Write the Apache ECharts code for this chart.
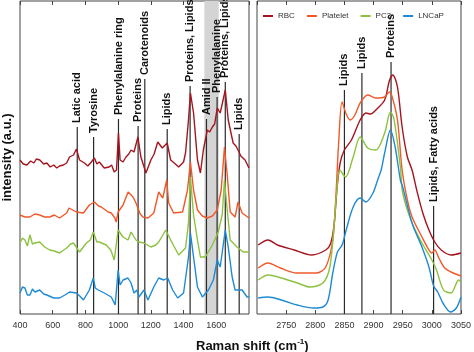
<!DOCTYPE html>
<html>
<head>
<meta charset="utf-8">
<script src="https://cdn.jsdelivr.net/npm/echarts/dist/echarts.min.js"></script>
<style>
  html, body { margin: 0; padding: 0; background: #fff; }
  #chart { width: 474px; height: 352px; }
</style>
</head>
<body>
<div id="chart"></div>
<script>
// spectra, [wavenumber, intensity a.u.]
const seriesNames = ['RBC', 'Platelet', 'PC3', 'LNCaP']
const colors = ['#A5151F', '#F2592A', '#8CC23F', '#1E8AD3']

// fingerprint region 400 - 1800
const rbcLow = [[400,154],[420,150],[442,149],[465,153],[485,151],[500,155],[521,154],[545,150],[564,151],[585,147],[606,149],[625,146],[642,148],[665,149],[685,151],[703,157],[715,155],[727,159],[745,165],[764,154],[794,151],[815,148],[836,152],[855,156],[870,150],[885,152],[915,146],[945,147],[960,149],[976,142],[990,144],[1002,181],[1012,154],[1030,152],[1048,157],[1065,160],[1079,164],[1097,162],[1121,177],[1139,157],[1170,141],[1200,154],[1220,160],[1242,172],[1270,166],[1300,171],[1321,154],[1350,150],[1370,147],[1382,146],[1400,152],[1412,161],[1430,194],[1442,221],[1461,201],[1485,154],[1503,141],[1521,164],[1545,184],[1560,182],[1576,187],[1590,190],[1606,206],[1624,201],[1655,224],[1673,194],[1703,171],[1720,168],[1733,164],[1750,158],[1776,154],[1800,146]]
const plateletLow = [[400,99],[430,97],[461,97],[490,100],[521,99],[550,97],[582,97],[610,99],[642,96],[685,101],[700,106],[745,102],[788,101],[824,109],[855,112],[880,108],[897,107],[939,102],[958,101],[980,96],[988,92],[1000,102],[1030,109],[1061,122],[1070,124],[1091,117],[1109,111],[1121,109],[1135,100],[1152,97],[1182,96],[1218,101],[1248,122],[1273,116],[1297,134],[1309,111],[1339,101],[1394,102],[1424,124],[1442,152],[1461,124],[1485,104],[1515,98],[1545,96],[1576,98],[1606,104],[1630,124],[1650,167],[1667,139],[1685,102],[1715,97],[1733,112],[1758,101],[1800,96]]
const pc3Low = [[400,71],[415,76],[430,74],[445,68],[461,79],[476,70],[491,71],[521,72],[550,67],[582,64],[610,63],[642,61],[685,66],[710,70],[727,71],[764,62],[806,71],[830,74],[848,82],[870,72],[885,72],[927,69],[955,64],[976,54],[1000,84],[1030,77],[1060,74],[1079,82],[1109,74],[1127,72],[1158,71],[1200,67],[1230,69],[1248,72],[1291,84],[1321,74],[1370,59],[1412,66],[1430,91],[1442,137],[1461,99],[1485,74],[1503,57],[1533,57],[1576,69],[1612,82],[1636,99],[1650,134],[1667,104],[1685,74],[1727,67],[1764,62],[1800,62]]
const lncapLow = [[400,21],[415,27],[430,26],[445,19],[461,19],[476,25],[491,22],[521,24],[545,20],[564,19],[606,16],[642,16],[675,19],[703,22],[745,21],[765,18],[788,14],[824,24],[848,36],[860,26],[879,24],[915,21],[958,17],[982,9],[1000,44],[1012,29],[1030,34],[1060,36],[1079,31],[1097,21],[1115,24],[1127,17],[1158,24],[1182,14],[1218,27],[1248,36],[1279,34],[1303,36],[1333,24],[1364,16],[1400,21],[1430,57],[1442,81],[1461,57],[1485,27],[1515,17],[1552,24],[1582,34],[1606,54],[1624,47],[1655,84],[1673,67],[1697,37],[1715,24],[1758,24],[1788,17],[1800,17]]

// high wavenumber region 2700 - 3050
const rbcHigh = [[2702,69],[2719,74],[2735,69],[2764,64],[2794,59],[2818,64],[2826,70],[2832,88],[2838,130],[2843,152],[2850,164],[2862,174],[2877,194],[2887,201],[2895,200],[2904,204],[2919,214],[2927,233],[2933,239],[2941,227],[2949,187],[2958,157],[2966,144],[2974,124],[2985,100],[2995,84],[3005,72],[3016,64],[3033,59],[3050,61]]
const plateletHigh = [[2702,46],[2719,51],[2740,46],[2768,41],[2802,41],[2818,47],[2830,74],[2835,114],[2840,170],[2846,212],[2853,200],[2860,194],[2868,199],[2877,211],[2890,219],[2904,216],[2919,217],[2927,222],[2932,217],[2941,194],[2949,144],[2958,114],[2966,97],[2983,77],[2993,66],[3000,61],[3005,64],[3012,56],[3022,46],[3033,42],[3050,38]]
const pc3High = [[2702,34],[2719,39],[2742,36],[2769,31],[2791,27],[2813,31],[2825,47],[2833,94],[2837,124],[2842,144],[2852,137],[2865,157],[2877,177],[2890,166],[2904,164],[2919,181],[2929,202],[2935,195],[2946,147],[2950,121],[2966,91],[2983,71],[3000,54],[3008,44],[3020,24],[3033,21],[3046,34],[3050,32]]
const lncapHigh = [[2702,16],[2719,17],[2742,14],[2769,9],[2797,6],[2813,7],[2822,14],[2830,41],[2838,62],[2846,69],[2853,84],[2865,107],[2877,116],[2887,112],[2899,121],[2907,134],[2913,144],[2919,161],[2929,184],[2937,167],[2946,134],[2950,127],[2966,91],[2983,67],[2995,47],[3003,28],[3010,22],[3020,10],[3032,2],[3042,6],[3050,17]]

// band assignments
const lowMarks = [750, 850, 1002, 1122, 1163, 1300, 1440, 1540, 1605, 1655, 1740]
const lowMarkTops = [187, 177, 195, 188, 235, 185, 228, 195, 217, 232, 180]
const lowMarkLabels = ['Latic acid', 'Tyrosine', 'Phenylalanine ring', 'Proteins', 'Carotenoids', 'Lipids', 'Proteins, Lipids', 'Amid II', 'Phenylalanine', 'Proteins, Lipids', 'Lipids']
const highMarks = [2850, 2880, 2930, 3003]
const highMarkTops = [224, 241, 252, 108]
const highMarkLabels = ['Lipids', 'Lipids', 'Proteins', 'Lipids, Fatty acids']
const amidBand = [1527, 1615]

const lowData = [rbcLow, plateletLow, pc3Low, lncapLow]
const highData = [rbcHigh, plateletHigh, pc3High, lncapHigh]

const chart = echarts.init(document.getElementById('chart'))

function markRender(labels) {
    return function (params, api) {
        let x = api.value(0)
        let p0 = api.coord([x, 0])
        let p1 = api.coord([x, api.value(1)])
        return {
            type: 'group',
            children: [
                {
                    type: 'line',
                    shape: { x1: p0[0], y1: p0[1], x2: p1[0], y2: p1[1] },
                    style: { stroke: '#2a2a2a', lineWidth: 1.2 }
                },
                {
                    type: 'text',
                    x: p1[0],
                    y: p1[1] - 4,
                    rotation: Math.PI / 2,
                    style: {
                        text: labels[params.dataIndex],
                        fill: '#111',
                        fontSize: 11,
                        fontWeight: 'bold',
                        fontFamily: 'Liberation Sans, Arial, sans-serif',
                        align: 'left',
                        verticalAlign: 'middle'
                    }
                }
            ]
        }
    }
}

function bottomAxis(grid, min, max, interval, hideMin, hideMax) {
    return {
        type: 'value', gridIndex: grid, min: min, max: max, interval: interval,
        position: 'bottom',
        axisLine: { show: false },
        axisTick: { show: true, inside: true, length: 4, lineStyle: { color: '#444' } },
        axisLabel: {
            color: '#333', fontSize: 9, margin: 7, fontFamily: 'Liberation Sans, Arial',
            showMinLabel: !hideMin, showMaxLabel: !hideMax,
            formatter: (v) => String(v)
        },
        splitLine: { show: false }
    }
}

function topAxis(grid, min, max, interval) {
    return {
        type: 'value', gridIndex: grid, min: min, max: max, interval: interval,
        position: 'top',
        axisLine: { show: false },
        axisTick: { show: true, inside: true, length: 4, lineStyle: { color: '#444' } },
        axisLabel: { show: false },
        splitLine: { show: false }
    }
}

let series = []
seriesNames.forEach((name, i) => {
    series.push({
        name: name, type: 'line', xAxisIndex: 0, yAxisIndex: 0,
        data: lowData[i], showSymbol: false, z: 3,
        lineStyle: { color: colors[i], width: 1.4 }, itemStyle: { color: colors[i] }
    })
    series.push({
        name: name, type: 'line', xAxisIndex: 2, yAxisIndex: 1,
        data: highData[i], showSymbol: false, smooth: 0.3, z: 3,
        lineStyle: { color: colors[i], width: 1.4 }, itemStyle: { color: colors[i] }
    })
})

// shaded Amid II band
series.push({
    type: 'line', xAxisIndex: 0, yAxisIndex: 0, data: [], z: 0,
    markArea: {
        silent: true,
        itemStyle: { color: '#d4d4d4' },
        data: [[{ xAxis: amidBand[0] }, { xAxis: amidBand[1] }]]
    }
})

series.push({
    type: 'custom', xAxisIndex: 0, yAxisIndex: 0, z: 1, clip: false, silent: true,
    renderItem: markRender(lowMarkLabels),
    data: lowMarks.map((x, i) => [x, lowMarkTops[i]])
})
series.push({
    type: 'custom', xAxisIndex: 2, yAxisIndex: 1, z: 1, clip: false, silent: true,
    renderItem: markRender(highMarkLabels),
    data: highMarks.map((x, i) => [x, highMarkTops[i]])
})

let option = {
    animation: false,
    title: {
        text: '{a|Raman shift (cm}{s|-1}{a|)}',
        left: 191,
        top: 333,
        textStyle: {
            rich: {
                a: { fontSize: 13, fontWeight: 'bold', color: '#111', fontFamily: 'Liberation Sans, Arial', lineHeight: 16 },
                s: { fontSize: 8, fontWeight: 'bold', color: '#111', fontFamily: 'Liberation Sans, Arial', verticalAlign: 'top', lineHeight: 10 }
            }
        }
    },
    legend: {
        data: seriesNames,
        left: 258,
        top: 7,
        icon: 'rect',
        itemWidth: 10,
        itemHeight: 2,
        itemGap: 12,
        textStyle: { fontSize: 8, color: '#333', fontFamily: 'Liberation Sans, Arial' }
    },
    grid: [
        { left: 18, right: 225, top: 1, bottom: 38, show: true, borderColor: '#444', borderWidth: 1 },
        { left: 257, right: 9, top: 1, bottom: 38, show: true, borderColor: '#444', borderWidth: 1 }
    ],
    xAxis: [
        bottomAxis(0, 400, 1800, 200, false, true),
        topAxis(0, 400, 1800, 200),
        bottomAxis(1, 2700, 3050, 50, true, false),
        topAxis(1, 2700, 3050, 50)
    ],
    yAxis: [
        {
            type: 'value', gridIndex: 0, min: 0, max: 313,
            name: 'intensity (a.u.)', nameLocation: 'middle', nameGap: 6,
            nameTextStyle: { fontSize: 13, fontWeight: 'bold', color: '#111', fontFamily: 'Liberation Sans, Arial' },
            axisLine: { show: false }, axisTick: { show: false }, axisLabel: { show: false },
            splitLine: { show: false }
        },
        {
            type: 'value', gridIndex: 1, min: 0, max: 313,
            axisLine: { show: false }, axisTick: { show: false }, axisLabel: { show: false },
            splitLine: { show: false }
        }
    ],
    series: series
}

chart.setOption(option)
</script>
</body>
</html>
